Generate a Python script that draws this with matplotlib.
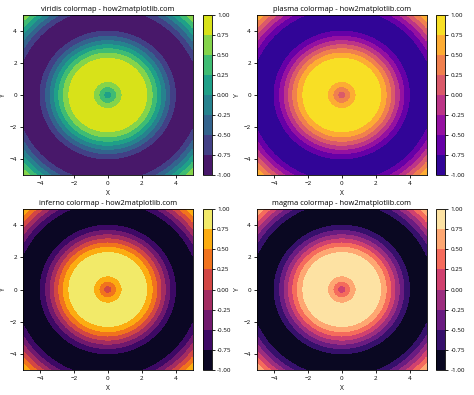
import numpy as np
import matplotlib
matplotlib.use("Agg")
import matplotlib.pyplot as plt

plt.rcParams['font.family'] = ['Open Sans', 'DejaVu Sans']

cmaps = ["viridis", "plasma", "inferno", "magma"]
titles = [f"{c} colormap - how2matplotlib.com" for c in cmaps]
x = np.linspace(-5, 5, 100)
y = np.linspace(-5, 5, 100)
levels = [-1.0, -0.75, -0.5, -0.25, 0.0, 0.25, 0.5, 0.75, 1.0]
xticks = [-4, -2, 0, 2, 4]
yticks = [-4, -2, 0, 2, 4]

X, Y = np.meshgrid(x, y)
Z = np.sin(np.sqrt(X**2 + Y**2))

W, H = 474, 395
fig = plt.figure(figsize=(W / 100, H / 100), dpi=100)

ax_boxes = [
    (23, 15, 192.5, 175),
    (257, 15, 426.5, 175),
    (23, 209, 192.5, 370),
    (257, 209, 426.5, 370),
]
cb_boxes = [
    (203, 15, 211.5, 175),
    (436, 15, 445, 175),
    (203, 209, 211.5, 370),
    (436, 209, 445, 370),
]

def frac(b):
    l, t, r, bt = b
    return [l / W, 1 - bt / H, (r - l) / W, (bt - t) / H]

for i, cm in enumerate(cmaps):
    ax = fig.add_axes(frac(ax_boxes[i]))
    cax = fig.add_axes(frac(cb_boxes[i]))
    cs = ax.contourf(X, Y, Z, levels=levels, cmap=cm)
    ax.set_title(titles[i], fontsize=5.4, pad=3)
    ax.set_xlabel("X", fontsize=4.8, labelpad=3)
    ax.set_ylabel("Y", fontsize=4.8, labelpad=2)
    ax.set_xticks(xticks)
    ax.set_yticks(yticks)
    ax.tick_params(labelsize=4.5, length=2.5, width=0.6, pad=2)
    for s in ax.spines.values():
        s.set_linewidth(0.6)
    cb = fig.colorbar(cs, cax=cax)
    cb.set_ticks(levels)
    cb.ax.set_yticklabels([f"{v:.2f}" for v in levels])
    cb.ax.tick_params(labelsize=4.5, length=2.5, width=0.6, pad=1.5)
    cb.outline.set_linewidth(0.6)

fig.savefig("out.png", dpi=100)
